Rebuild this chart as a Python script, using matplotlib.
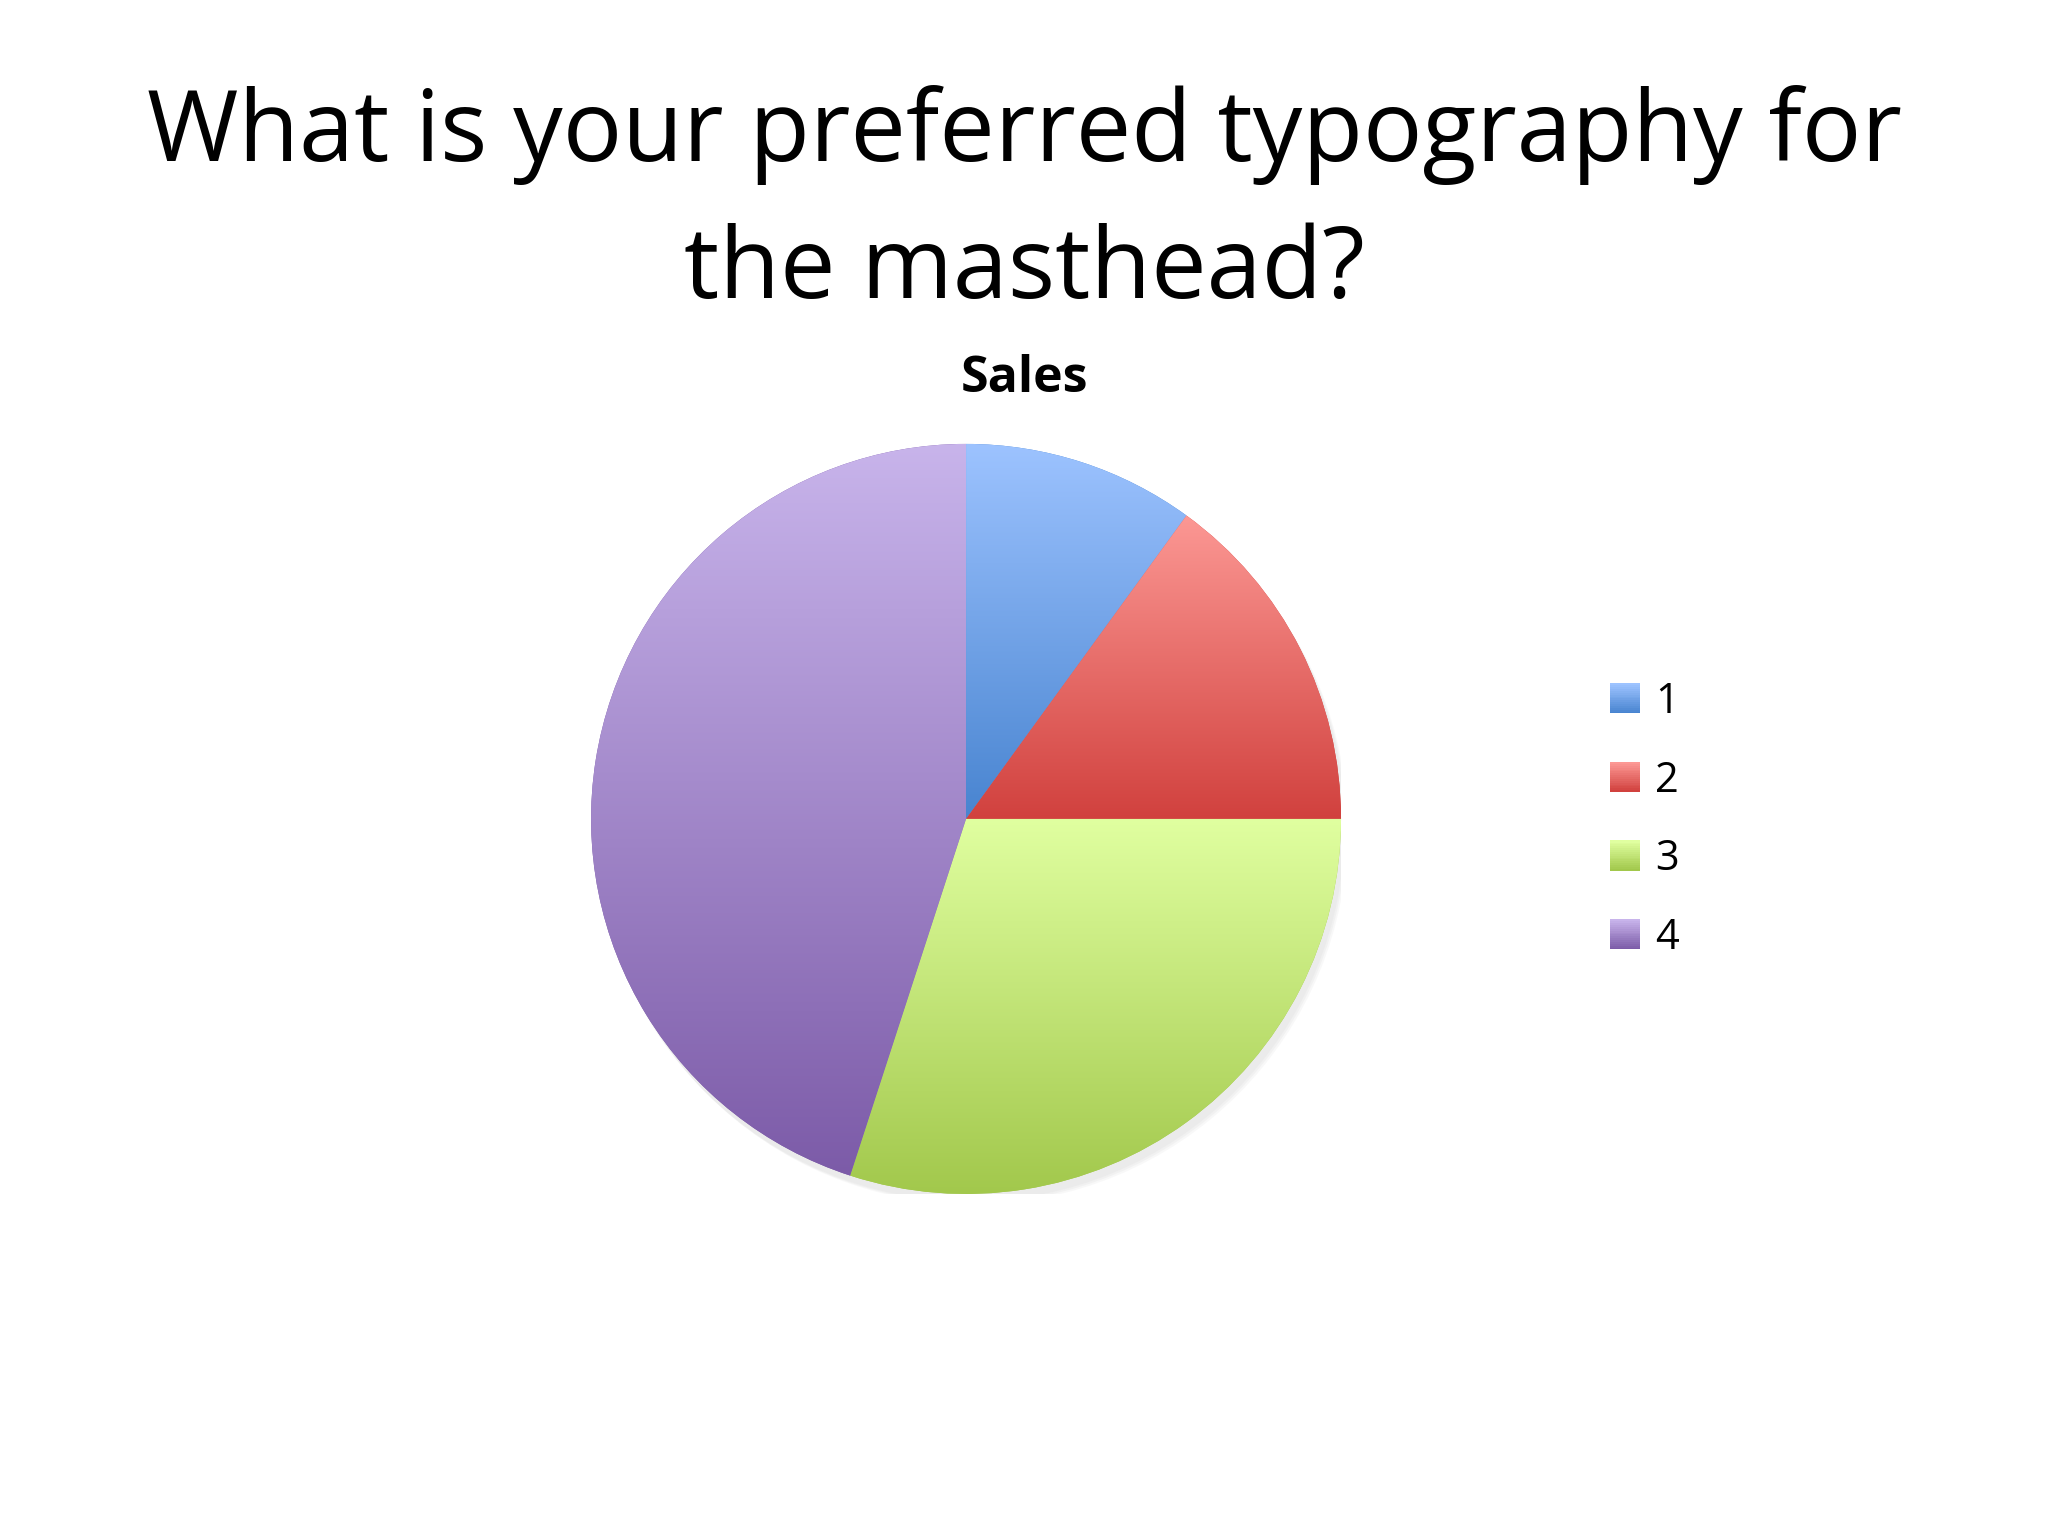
import numpy as np
import matplotlib
matplotlib.use('Agg')
import matplotlib.pyplot as plt
from matplotlib.colors import LinearSegmentedColormap
from matplotlib.legend_handler import HandlerBase
from matplotlib.patches import Rectangle, Circle

title_lines = ['What is your preferred typography for', 'the masthead?']
chart_title = 'Sales'
labels = ['1', '2', '3', '4']
values = [10, 15, 30, 45]
top_colors = ['#9dc3ff', '#fc9894', '#e0ffa0', '#c8b4eb']
bottom_colors = ['#4884d0', '#d1413e', '#a2c84c', '#7c5ba8']

plt.rcParams['font.family'] = ['Open Sans', 'DejaVu Sans']

fig = plt.figure(figsize=(20.48, 15.36), dpi=100)
fig.patch.set_facecolor('white')

for line, base in zip(title_lines, [161, 298]):
    fig.text(0.5, 1 - base / 1536, line, ha='center', va='baseline',
             fontsize=71.3, color='black')
fig.text(0.5, 1 - 392 / 1536, chart_title, ha='center', va='baseline',
         fontsize=36, fontweight='bold', color='black')

ax = fig.add_axes([0.2886, 0.2227, 0.3662, 0.4883])
ax.axis('off')

# soft shadow
for k in range(3):
    ax.add_patch(Circle((0.01 + 0.004 * k, -0.02 - 0.004 * k), 1.0,
                        facecolor='#808080', edgecolor='none', alpha=0.05, zorder=0))

wedges, _ = ax.pie(values, startangle=90, counterclock=False, radius=1.0,
                   colors=bottom_colors, wedgeprops=dict(linewidth=0))

for w, c0, c1 in zip(wedges, top_colors, bottom_colors):
    ext = w.get_path().get_extents()
    cmap = LinearSegmentedColormap.from_list('g', [c1, c0])
    grad = np.linspace(0, 1, 256).reshape(-1, 1)
    im = ax.imshow(grad, cmap=cmap, origin='lower', aspect='auto',
                   extent=[ext.x0, ext.x1, ext.y0, ext.y1], zorder=2)
    im.set_clip_path(w)
ax.set_xlim(-1.0, 1.0)
ax.set_ylim(-1.0, 1.0)


class GradientHandler(HandlerBase):
    def __init__(self, c_top, c_bot):
        super().__init__()
        self.c_top = c_top
        self.c_bot = c_bot

    def create_artists(self, legend, orig_handle, xdescent, ydescent,
                       width, height, fontsize, trans):
        cmap = LinearSegmentedColormap.from_list('g', [self.c_bot, self.c_top])
        n = 16
        side = 30 * 72 / 100  # points
        x0 = -xdescent + (width - side) / 2
        y0 = -ydescent + (height - side) / 2
        arts = []
        for i in range(n):
            r = Rectangle((x0, y0 + side * i / n), side, side / n + 0.3,
                          facecolor=cmap(i / (n - 1)), edgecolor='none',
                          transform=trans)
            arts.append(r)
        return arts


handles = [Rectangle((0, 0), 1, 1) for _ in labels]
handler_map = {h: GradientHandler(t, b) for h, t, b in zip(handles, top_colors, bottom_colors)}
fig.legend(handles, labels, handler_map=handler_map, loc='center left',
           bbox_to_anchor=(1610 / 2048, 1 - 820 / 1536), frameon=False,
           fontsize=30, handlelength=0.74, handleheight=0.7, handletextpad=0.35,
           labelspacing=0.88, borderpad=0, borderaxespad=0)

fig.savefig('out.png', dpi=100, facecolor='white')
